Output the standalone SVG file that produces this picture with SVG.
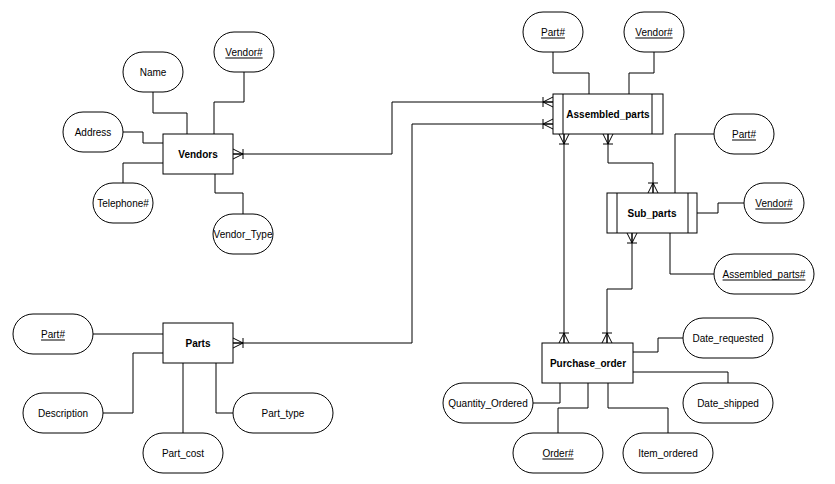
<svg xmlns="http://www.w3.org/2000/svg" width="835" height="484" viewBox="0 0 835 484">
<style>
text{font-family:"Liberation Sans",Arial,sans-serif;font-size:10px;fill:#000;text-anchor:middle;dominant-baseline:central}
.b{font-weight:bold}
.u{text-decoration:underline}
.e,.n{fill:#fff;stroke:#000;stroke-width:1}
.c path{fill:none;stroke:#000;stroke-width:1}
</style>
<defs>
<marker id="m" markerUnits="userSpaceOnUse" markerWidth="14" markerHeight="14" viewBox="-12 -7 14 14" refX="0" refY="0" orient="auto-start-reverse">
<path d="M0,-5 L-10,0 L0,5 M0,0 L-10,0 M-10,-5 L-10,5" fill="none" stroke="#000" stroke-width="1"/>
</marker>
</defs>
<g class="c" id="connectors">
<path d="M153,92V113H187V134"/>
<path d="M244,72V102H214V134"/>
<path d="M123,132H143V143H163"/>
<path d="M123,183V163H163"/>
<path d="M243,214V193H215V174"/>
<path d="M233,154H392V102H553" marker-start="url(#m)" marker-end="url(#m)"/>
<path d="M233,343H412V124H553" marker-start="url(#m)" marker-end="url(#m)"/>
<path d="M608,134V163H653V193" marker-start="url(#m)" marker-end="url(#m)"/>
<path d="M564,134V343" marker-start="url(#m)" marker-end="url(#m)"/>
<path d="M632,233V289H607V343" marker-start="url(#m)" marker-end="url(#m)"/>
<path d="M553,52V73H589V94"/>
<path d="M654,52V73H629V94"/>
<path d="M714,134H675V193"/>
<path d="M744,203H718V213H697"/>
<path d="M714,274H670V233"/>
<path d="M93,334H163"/>
<path d="M103,413H133V353H163"/>
<path d="M183,433V363"/>
<path d="M233,413H216V363"/>
<path d="M683,338H658V352H633"/>
<path d="M728,383V372H633"/>
<path d="M533,403H560V383"/>
<path d="M558,433V408H588V383"/>
<path d="M668,433V408H608V383"/>
</g>
<g id="Vendors"><rect class="n" x="163" y="134" width="70" height="40"/><text class="b" x="198" y="154">Vendors</text></g>
<g id="Assembled_parts"><rect class="n" x="553" y="94" width="110" height="40"/><path d="M563,94V134M652,94V134" stroke="#000"/><text class="b" x="608" y="114">Assembled_parts</text></g>
<g id="Sub_parts"><rect class="n" x="607" y="193" width="90" height="40"/><path d="M617,193V233M688,193V233" stroke="#000"/><text class="b" x="652" y="213">Sub_parts</text></g>
<g id="Parts"><rect class="n" x="163" y="323" width="70" height="40"/><text class="b" x="198" y="343">Parts</text></g>
<g id="Purchase_order"><rect class="n" x="542" y="343" width="91" height="40"/><text class="b" x="588" y="363">Purchase_order</text></g>
<g id="a_name"><rect class="e" x="123" y="52" width="60" height="40" rx="20"/><text x="153" y="72">Name</text></g>
<g id="a_vendor1"><rect class="e" x="214" y="32" width="60" height="40" rx="20"/><text class="u" x="244" y="52">Vendor#</text></g>
<g id="a_address"><rect class="e" x="63" y="112" width="60" height="40" rx="20"/><text x="93" y="132">Address</text></g>
<g id="a_tel"><rect class="e" x="93" y="183" width="60" height="40" rx="20"/><text x="123" y="203">Telephone#</text></g>
<g id="a_vtype"><rect class="e" x="213" y="214" width="60" height="40" rx="20"/><text x="243" y="234">Vendor_Type</text></g>
<g id="a_part1"><rect class="e" x="523" y="12" width="60" height="40" rx="20"/><text class="u" x="553" y="32">Part#</text></g>
<g id="a_vendor2"><rect class="e" x="624" y="12" width="60" height="40" rx="20"/><text class="u" x="654" y="32">Vendor#</text></g>
<g id="a_part2"><rect class="e" x="714" y="114" width="60" height="40" rx="20"/><text class="u" x="744" y="134">Part#</text></g>
<g id="a_vendor3"><rect class="e" x="744" y="183" width="60" height="40" rx="20"/><text class="u" x="774" y="203">Vendor#</text></g>
<g id="a_ap"><rect class="e" x="714" y="254" width="100" height="40" rx="20"/><text class="u" x="764" y="274">Assembled_parts#</text></g>
<g id="a_part3"><rect class="e" x="13" y="314" width="80" height="40" rx="20"/><text class="u" x="53" y="334">Part#</text></g>
<g id="a_desc"><rect class="e" x="23" y="393" width="80" height="40" rx="20"/><text x="63" y="413">Description</text></g>
<g id="a_cost"><rect class="e" x="143" y="433" width="80" height="40" rx="20"/><text x="183" y="453">Part_cost</text></g>
<g id="a_ptype"><rect class="e" x="233" y="393" width="100" height="40" rx="20"/><text x="283" y="413">Part_type</text></g>
<g id="a_dreq"><rect class="e" x="683" y="318" width="90" height="40" rx="20"/><text x="728" y="338">Date_requested</text></g>
<g id="a_dship"><rect class="e" x="683" y="383" width="90" height="40" rx="20"/><text x="728" y="403">Date_shipped</text></g>
<g id="a_qty"><rect class="e" x="443" y="383" width="90" height="40" rx="20"/><text x="488" y="403">Quantity_Ordered</text></g>
<g id="a_order"><rect class="e" x="513" y="433" width="90" height="40" rx="20"/><text class="u" x="558" y="453">Order#</text></g>
<g id="a_item"><rect class="e" x="623" y="433" width="90" height="40" rx="20"/><text x="668" y="453">Item_ordered</text></g>
</svg>
